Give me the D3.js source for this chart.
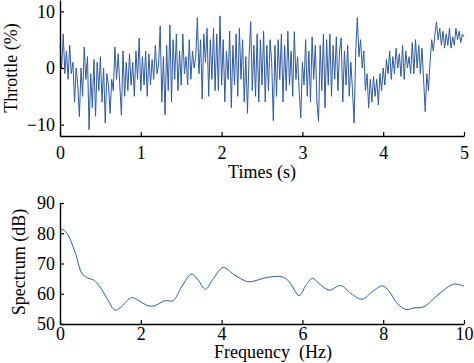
<!DOCTYPE html>
<html>
<head>
<meta charset="utf-8">
<script src="https://cdn.jsdelivr.net/npm/d3@7"></script>
<style>
  body { margin: 0; background: #fff; }
  svg text { font-family: "Liberation Serif", "Times New Roman", serif; }
</style>
</head>
<body>
<div id="chart"></div>
<script>
// throttle samples, one every 0.02 s from 0 to 5 s
var throttleStep = 0.02;
var throttle = [
  4, 0, 6, -1, 3, -2, 4, -1, 1, -6,
  0, -3, -8.6, 0, -5, 3.7, -2, 2, -10.9, -1,
  -7, 1.5, -8.5, 1, -4, 2, -6, 0, -9.7, -1,
  -3, -8, -2, -4, 3.7, -2, 2.5, -3, -8.3, 3,
  -5, 1, -4, 2.5, -3, 1, -5, 3, -2, 5.3,
  -4, 2, -3, 3, -5, 2.5, -3, 1.5, -2, 4,
  -1, 0.5, 7.4, -6, 2, -8.3, 4, -4, 7.6, -6,
  5, -2, 6, -4, 3, -3, 6, -1, 2, -3,
  5, -2, 3, 0, 2, 8.9, -1, 5, -5.5, 6,
  1, 7, -5, 5, -2, 7, -4, 6, -4, 9.2,
  -3, 5, -6, 3, -2, 6.5, -7, 4, -3, 6,
  -5, 7, -2, 5, -6, 2, -8, 2, 8.2, -4,
  4, -5, 6, -6, 5, -3, 6.5, -6, 4, -4,
  5, 1, -9.3, 4, -5, 5, -2, 6, -6, 4,
  -4, 6.5, -3, 3, -5, 6.4, -2, 2, -4, -8.8,
  1, -3, 5, -5, 3, -6, 5.5, -2, 4, -6,
  -9.4, 4, -4, 6, -7, 5, -3, 6, -5, 4,
  -2, 5.5, -4, 3, 5.3, -6, 3, -3, 4, -5,
  1, -4, -9.7, 3, 8.9, 2, 5, 0, 3, -4,
  -1, -7, -2, -6, -1.5, -5, -2, -6.5, -1, -4,
  0, -3, 1.5, -1, 3, -2, 2, -1, 3.5, 0,
  2.5, -1.5, 4, -2, 3, 0, 2, -1, 4.5, -1,
  5, 0, 4, -1, 3.5, -2, -7.7, -1, -4, 1,
  5, 3, 6, 8.1, 5, 7, 4, 6.5, 3.5, 6,
  4, 7, 3.5, 5.5, 4, 7, 5, 6.5, 4.5, 6,
  5.5
];
var timeTicks = [0, 1, 2, 3, 4, 5];
var throttleTicks = [-10, 0, 10];

// spectrum
var freq = [0, 0.05, 0.17, 0.37, 0.54, 0.66, 0.83, 0.99, 1.16, 1.36, 1.49, 1.77, 1.89, 2.19, 2.35, 2.6, 2.8,
  3.01, 3.26, 3.42, 3.6, 3.8, 4.04, 4.29, 4.46, 4.64, 4.8, 5.13, 5.5, 5.67, 5.92, 6.08, 6.25, 6.41,
  6.66, 6.95, 7.2, 7.48, 7.73, 7.98, 8.14, 8.35, 8.56, 8.76, 9.01, 9.26, 9.5, 9.75, 10];
var spectrum = [81, 81.3, 80, 73.9, 66.8, 65.4, 64.5, 62.3, 58.5, 54.6, 55.4, 58.7, 58.2, 56, 56.1, 57.7, 57.7,
  62.3, 66.5, 64.5, 61.5, 65.1, 68.7, 66.5, 65.1, 64, 64.2, 65.4, 65.6, 64, 59.4, 62.6, 65.1, 63.4,
  61.2, 62.7, 60.1, 58.2, 60.7, 62.6, 60.9, 56.8, 54.8, 55.3, 55.7, 58.5, 61.2, 63.2, 62.5];
var freqTicks = [0, 2, 4, 6, 8, 10];
var dbTicks = [50, 60, 70, 80, 90];

var width = 474, height = 363;
var lineColor = "#2c5aa6";
var fmt = function(d){ return d < 0 ? "\u2212" + Math.abs(d) : String(d); };

var svg = d3.select("#chart").append("svg")
  .attr("width", width)
  .attr("height", height);

// ---- top panel ----
var x1 = d3.scaleLinear().domain([0, 5]).range([60, 464]);
var y1 = d3.scaleLinear().domain([-12, 12]).range([136, 0]);

svg.append("path")
  .datum(throttle)
  .attr("fill", "none")
  .attr("stroke", lineColor)
  .attr("stroke-width", 1)
  .attr("d", d3.line()
    .x(function(d, i){ return x1(i * throttleStep); })
    .y(function(d){ return y1(d); }));

var ax1 = svg.append("g")
  .attr("transform", "translate(0,136)")
  .call(d3.axisBottom(x1).tickValues(timeTicks).tickSize(-4).tickPadding(10).tickSizeOuter(0).tickFormat(fmt));
var ay1 = svg.append("g")
  .attr("transform", "translate(60,0)")
  .call(d3.axisLeft(y1).tickValues(throttleTicks).tickSize(-4).tickPadding(5).tickSizeOuter(0).tickFormat(fmt));

svg.append("text")
  .attr("x", 262).attr("y", 178)
  .attr("text-anchor", "middle")
  .attr("font-size", 18)
  .text("Times (s)");
svg.append("text")
  .attr("transform", "translate(17,68) rotate(-90)")
  .attr("text-anchor", "middle")
  .attr("font-size", 18)
  .text("Throttle (%)");

// ---- bottom panel ----
var x2 = d3.scaleLinear().domain([0, 10]).range([60, 464]);
var y2 = d3.scaleLinear().domain([50, 90]).range([324, 203]);

svg.append("path")
  .datum(freq.map(function(f, i){ return [f, spectrum[i]]; }))
  .attr("fill", "none")
  .attr("stroke", lineColor)
  .attr("stroke-width", 1)
  .attr("d", d3.line()
    .curve(d3.curveCatmullRom)
    .x(function(d){ return x2(d[0]); })
    .y(function(d){ return y2(d[1]); }));

var ax2 = svg.append("g")
  .attr("transform", "translate(0,324)")
  .call(d3.axisBottom(x2).tickValues(freqTicks).tickSize(-4).tickPadding(3).tickSizeOuter(0).tickFormat(fmt));
var ay2 = svg.append("g")
  .attr("transform", "translate(60,0)")
  .call(d3.axisLeft(y2).tickValues(dbTicks).tickSize(-4).tickPadding(5).tickSizeOuter(0).tickFormat(fmt));

svg.append("text")
  .attr("x", 273).attr("y", 358)
  .attr("text-anchor", "middle")
  .attr("font-size", 18)
  .style("white-space", "pre")
  .text("Frequency  (Hz)");
svg.append("text")
  .attr("transform", "translate(25,262) rotate(-90)")
  .attr("text-anchor", "middle")
  .attr("font-size", 18)
  .text("Spectrum (dB)");

// axis styling
[ax1, ay1, ax2, ay2].forEach(function(g){
  g.selectAll("path").attr("stroke", "#000").attr("stroke-width", 1.4);
  g.selectAll("line").attr("stroke", "#000").attr("stroke-width", 1.2);
  g.selectAll("text")
    .attr("font-family", "Liberation Serif, Times New Roman, serif")
    .attr("font-size", 18)
    .attr("fill", "#000");
});
</script>
</body>
</html>
